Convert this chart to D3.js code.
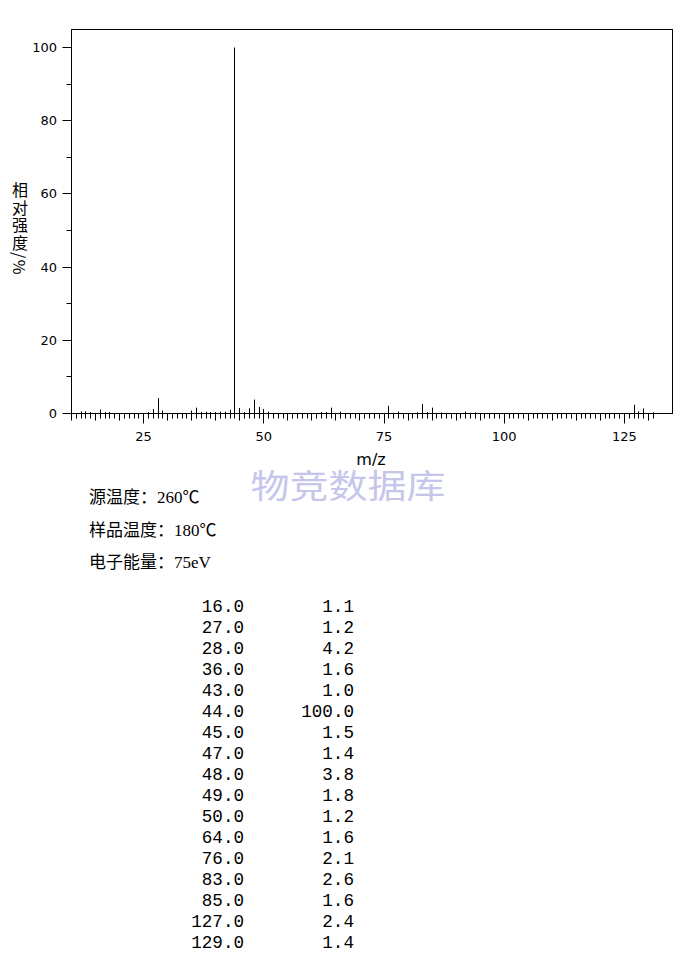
<!DOCTYPE html>
<html><head><meta charset="utf-8">
<script src="https://cdn.jsdelivr.net/npm/d3@7"></script>
<style>html,body{margin:0;padding:0;background:#fff;}svg{display:block;}</style>
</head><body>
<script>
// Listed peaks (m/z, relative intensity %)
const mzValues = [16, 27, 28, 36, 43, 44, 45, 47, 48, 49, 50, 64, 76, 83, 85, 127, 129];
const intensities = [1.1, 1.2, 4.2, 1.6, 1.0, 100.0, 1.5, 1.4, 3.8, 1.8, 1.2, 1.6, 2.1, 2.6, 1.6, 2.4, 1.4];
// Small unlisted peaks (estimated)
const minorMz = [12, 13, 14, 17, 18, 26, 29, 35, 37, 38, 39, 40, 41, 42, 46, 51, 62, 63, 66, 78, 82, 84, 87, 92, 94, 128, 131];
const minorIntensities = [0.6, 0.6, 0.4, 0.4, 0.4, 0.4, 0.8, 0.8, 0.4, 0.5, 0.4, 0.4, 0.5, 0.5, 0.4, 0.5, 0.4, 0.4, 0.5, 0.5, 0.3, 0.4, 0.3, 0.5, 0.3, 0.6, 0.3];
const xTickLabels = [25, 50, 75, 100, 125];
const yTickLabels = [0, 20, 40, 60, 80, 100];
const conditions = ["源温度：260℃", "样品温度：180℃", "电子能量：75eV"];

const W = 696, H = 967;
const svg = d3.select("body").append("svg").attr("width", W).attr("height", H);

const x = d3.scaleLinear().domain([10, 135]).range([71, 672]);
const y = d3.scaleLinear().domain([0, 100]).range([413, 47]);
const frameTop = 29;

// watermark (drawn first, behind)
svg.append("text").attr("text-anchor", "middle")
  .attr("transform", "translate(348,498) scale(1,0.86)")
  .attr("font-family", "Noto Sans CJK SC, sans-serif").attr("font-size", 39).attr("fill", "#c6c6ea")
  .text("物竞数据库");

const g = svg.append("g").attr("transform", "translate(0.5,0.5)");

// frame
g.append("rect").attr("x", x(10)).attr("y", frameTop).attr("width", x(135) - x(10)).attr("height", y(0) - frameTop)
  .attr("fill", "none").attr("stroke", "#000").attr("stroke-width", 1);

// x ticks (every unit, 10..131)
const xt = d3.range(10, 132);
g.append("g").selectAll("line").data(xt).join("line")
  .attr("x1", d => Math.round(x(d))).attr("x2", d => Math.round(x(d)))
  .attr("y1", y(0)).attr("y2", d => y(0) + (d % 25 === 0 ? 10 : d % 5 === 0 ? 7 : 5))
  .attr("stroke", "#000");

g.append("g").selectAll("text").data(xTickLabels).join("text")
  .attr("x", d => x(d)).attr("y", 440).attr("text-anchor", "middle")
  .attr("font-family", "DejaVu Sans, sans-serif").attr("font-size", 13).attr("fill", "#000")
  .text(d => d);

// y ticks
const yt = d3.range(0, 101, 10);
g.append("g").selectAll("line").data(yt).join("line")
  .attr("x1", d => x(10) - (d % 20 === 0 ? 9 : 5)).attr("x2", x(10))
  .attr("y1", d => Math.round(y(d))).attr("y2", d => Math.round(y(d)))
  .attr("stroke", "#000");
svg.append("g").selectAll("text").data(yTickLabels).join("text")
  .attr("x", 57).attr("y", d => y(d) + 5).attr("text-anchor", "end")
  .attr("font-family", "DejaVu Sans, sans-serif").attr("font-size", 13).attr("fill", "#000")
  .text(d => d);

// peaks
const minor = minorMz.map((m, i) => ({m, v: minorIntensities[i]}));
const major = mzValues.map((m, i) => ({m, v: intensities[i]}));
g.append("g").selectAll("line").data(minor.concat(major)).join("line")
  .attr("x1", d => Math.round(x(d.m))).attr("x2", d => Math.round(x(d.m)))
  .attr("y1", y(0)).attr("y2", d => y(d.v))
  .attr("stroke", "#000").attr("stroke-width", 1);

// axis titles
svg.append("text").attr("x", 20).attr("y", 229)
  .attr("text-anchor", "middle")
  .style("writing-mode", "vertical-rl")
  .style("letter-spacing", "1.5px")
  .attr("font-family", "Noto Sans CJK SC, sans-serif").attr("font-size", 16).attr("fill", "#000")
  .text("相对强度/%");
svg.append("text").attr("x", 371).attr("y", 465).attr("text-anchor", "middle")
  .attr("font-family", "DejaVu Sans, sans-serif").attr("font-size", 16).attr("fill", "#000")
  .text("m/z");

// conditions
svg.append("g").selectAll("text").data(conditions).join("text")
  .attr("x", 89).attr("y", (d, i) => 503 + i * 32.5)
  .attr("font-family", "Liberation Serif, Noto Sans CJK SC, serif").attr("font-size", 17).attr("fill", "#000")
  .text(d => d);

// peak table
const rows = svg.append("g").selectAll("g").data(major).join("g");
rows.append("text").attr("x", 244).attr("y", (d, i) => 612 + i * 21).attr("text-anchor", "end")
  .attr("font-family", "Liberation Mono, monospace").attr("font-size", 17.6).attr("fill", "#000")
  .text(d => d.m.toFixed(1));
rows.append("text").attr("x", 354).attr("y", (d, i) => 612 + i * 21).attr("text-anchor", "end")
  .attr("font-family", "Liberation Mono, monospace").attr("font-size", 17.6).attr("fill", "#000")
  .text(d => d.v.toFixed(1));
</script>
</body></html>
